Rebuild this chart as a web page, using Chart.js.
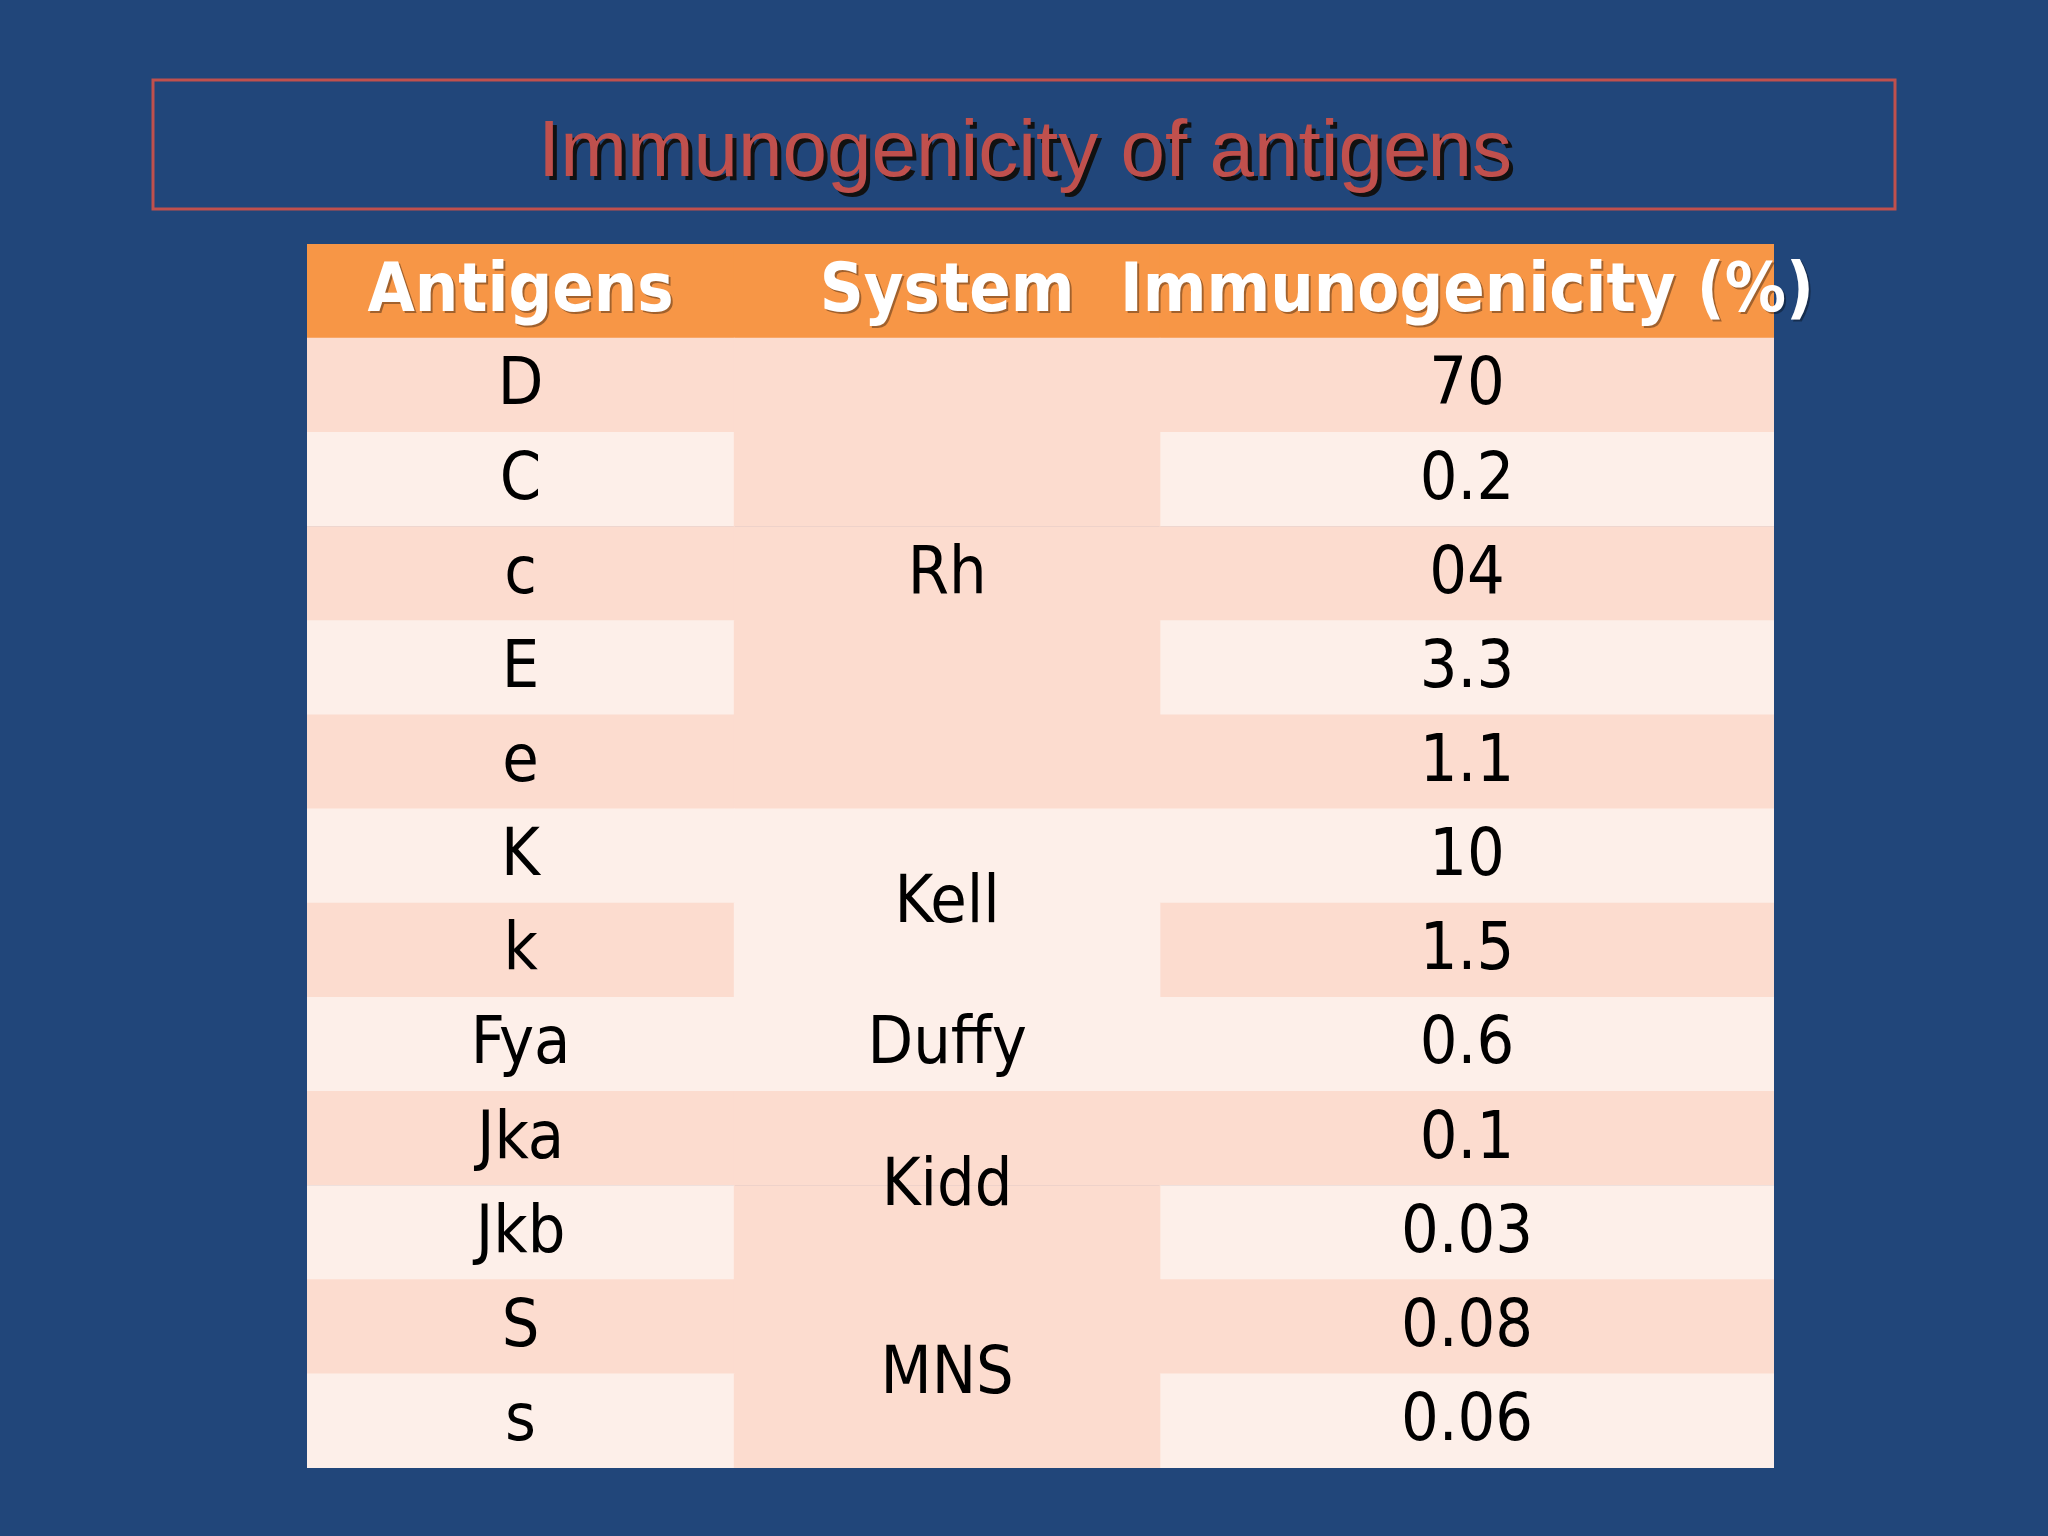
<!DOCTYPE html>
<html><head><meta charset="utf-8">
<script src="https://cdn.jsdelivr.net/npm/chart.js@4"></script>
<style>html,body{margin:0;padding:0;background:#21467a;}canvas{display:block;}</style>
</head><body>
<div style="width:2048px;height:1536px"><canvas id="c"></canvas></div>
<script>
const headers = ["Antigens", "System", "Immunogenicity (%)"];
const antigens = ["D","C","c","E","e","K","k","Fya","Jka","Jkb","S","s"];
const immunogenicity = ["70","0.2","04","3.3","1.1","10","1.5","0.6","0.1","0.03","0.08","0.06"];
const systems = ["Rh","Kell","Duffy","Kidd","MNS"];
const systemSpans = [[0,4],[5,6],[7,7],[8,9],[10,11]];
const title = "Immunogenicity of antigens";

const colEdges = [0, 327, 653, 1123];
const rowLabels = ["H"].concat(antigens.map((a,i)=>"r"+i));
const DARK = "#fcdccf", LIGHT = "#fdefe9", HEAD = "#f79646";
const sysDark = [true,false,false,true,true];

const cells = [], colors = [];
for (let c = 0; c < 3; c++) { cells.push({y:"H", x:[colEdges[c], colEdges[c+1]]}); colors.push(HEAD); }
antigens.forEach((a,i)=>{
  const shade = i%2===0 ? DARK : LIGHT;
  cells.push({y:"r"+i, x:[colEdges[0],colEdges[1]]}); colors.push(shade);
  cells.push({y:"r"+i, x:[colEdges[2],colEdges[3]]}); colors.push(shade);
  const s = systemSpans.findIndex(sp=>i>=sp[0]&&i<=sp[1]);
  cells.push({y:"r"+i, x:[colEdges[1],colEdges[2]]}); colors.push(sysDark[s]?DARK:LIGHT);
});

const NARROW = "'Liberation Sans Narrow', 'DejaVu Sans Condensed', 'Liberation Sans', sans-serif";
const textPlugin = {
  id:'texts',
  afterDraw(chart){
    const ctx = chart.ctx, xs = chart.scales.x, ys = chart.scales.y;
    const cx = c => (xs.getPixelForValue(colEdges[c]) + xs.getPixelForValue(colEdges[c+1]))/2;
    ctx.save();
    ctx.textAlign = 'center'; ctx.textBaseline = 'middle';
    // title box
    ctx.strokeStyle = '#c0504d'; ctx.lineWidth = 3;
    ctx.strokeRect(153, 80, 1742, 129);
    ctx.font = "80px 'Liberation Sans', Arial, sans-serif";
    ctx.fillStyle = '#111'; ctx.fillText(title, 1029, 158);
    ctx.fillStyle = '#c0504d'; ctx.fillText(title, 1025, 154);
    // header
    ctx.font = "bold 68px " + NARROW;
    headers.forEach((h,c)=>{
      ctx.fillStyle = 'rgba(0,0,0,0.35)'; ctx.fillText(h, cx(c)+2, ys.getPixelForValue(0)+4);
      ctx.fillStyle = '#fff'; ctx.fillText(h, cx(c), ys.getPixelForValue(0)+2);
    });
    ctx.font = "66px " + NARROW; ctx.fillStyle = '#000';
    antigens.forEach((a,i)=>{
      const y = ys.getPixelForValue(i+1)+2;
      ctx.fillText(a, cx(0), y);
      ctx.fillText(immunogenicity[i], cx(2), y);
    });
    systems.forEach((s,k)=>{
      const y = (ys.getPixelForValue(systemSpans[k][0]+1) + ys.getPixelForValue(systemSpans[k][1]+1))/2 + 2;
      ctx.fillText(s, cx(1), y);
    });
    ctx.restore();
  }
};

new Chart(document.getElementById('c'), {
  type:'bar',
  data:{labels:rowLabels, datasets:[{data:cells, backgroundColor:colors, borderWidth:0,
    barPercentage:1.0, categoryPercentage:1.0, grouped:false}]},
  options:{
    indexAxis:'y', responsive:true, maintainAspectRatio:false, animation:false,
    layout:{padding:{left:307, right:274, top:244, bottom:68}},
    plugins:{legend:{display:false}, tooltip:{enabled:false}},
    scales:{
      x:{type:'linear', min:0, max:1123, display:false},
      y:{type:'category', display:false, offset:true}
    }
  },
  plugins:[textPlugin]
});
</script>
</body></html>
